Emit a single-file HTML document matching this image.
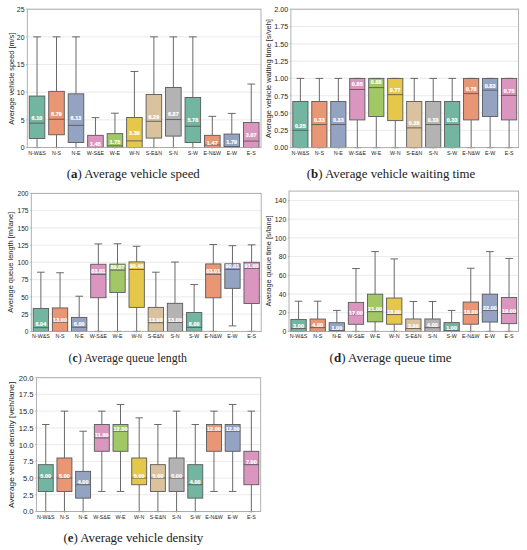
<!DOCTYPE html>
<html><head><meta charset="utf-8"><style>
html,body{margin:0;padding:0;background:#fff;}
svg{display:block;}
text{font-family:"Liberation Sans",sans-serif;}
.tk{font-size:6.6px;fill:#262626;}
.xt{font-size:5.3px;fill:#262626;}
.yl{font-size:7px;fill:#262626;}
.bl{font-size:5.4px;fill:#fff;font-weight:bold;stroke:#fff;stroke-width:0.2px;letter-spacing:0.1px;}
.cap{font-family:"Liberation Serif",serif;font-size:12.8px;fill:#222;}
</style></head><body>
<svg width="527" height="550" viewBox="0 0 527 550">
<rect width="527" height="550" fill="#fff"/>
<line x1="27.3" y1="147.50" x2="261.0" y2="147.50" stroke="#e4e4e4" stroke-width="0.8"/>
<text x="24.50" y="150.23" text-anchor="end" class="tk" style="font-size:6.9px">0</text>
<line x1="26.1" y1="147.50" x2="27.3" y2="147.50" stroke="#a8a8a8" stroke-width="0.8"/>
<line x1="27.3" y1="119.84" x2="261.0" y2="119.84" stroke="#e4e4e4" stroke-width="0.8"/>
<text x="24.50" y="122.57" text-anchor="end" class="tk" style="font-size:6.9px">5</text>
<line x1="26.1" y1="119.84" x2="27.3" y2="119.84" stroke="#a8a8a8" stroke-width="0.8"/>
<line x1="27.3" y1="92.18" x2="261.0" y2="92.18" stroke="#e4e4e4" stroke-width="0.8"/>
<text x="24.50" y="94.91" text-anchor="end" class="tk" style="font-size:6.9px">10</text>
<line x1="26.1" y1="92.18" x2="27.3" y2="92.18" stroke="#a8a8a8" stroke-width="0.8"/>
<line x1="27.3" y1="64.52" x2="261.0" y2="64.52" stroke="#e4e4e4" stroke-width="0.8"/>
<text x="24.50" y="67.25" text-anchor="end" class="tk" style="font-size:6.9px">15</text>
<line x1="26.1" y1="64.52" x2="27.3" y2="64.52" stroke="#a8a8a8" stroke-width="0.8"/>
<line x1="27.3" y1="36.86" x2="261.0" y2="36.86" stroke="#e4e4e4" stroke-width="0.8"/>
<text x="24.50" y="39.59" text-anchor="end" class="tk" style="font-size:6.9px">20</text>
<line x1="26.1" y1="36.86" x2="27.3" y2="36.86" stroke="#a8a8a8" stroke-width="0.8"/>
<line x1="27.3" y1="9.20" x2="261.0" y2="9.20" stroke="#e4e4e4" stroke-width="0.8"/>
<text x="24.50" y="11.93" text-anchor="end" class="tk" style="font-size:6.9px">25</text>
<line x1="26.1" y1="9.20" x2="27.3" y2="9.20" stroke="#a8a8a8" stroke-width="0.8"/>
<line x1="37.04" y1="96.05" x2="37.04" y2="36.86" stroke="#595959" stroke-width="0.9"/>
<line x1="37.04" y1="138.48" x2="37.04" y2="147.50" stroke="#595959" stroke-width="0.9"/>
<line x1="33.14" y1="36.86" x2="40.93" y2="36.86" stroke="#595959" stroke-width="0.9"/>
<line x1="33.14" y1="147.50" x2="40.93" y2="147.50" stroke="#595959" stroke-width="0.9"/>
<rect x="29.25" y="96.05" width="15.58" height="42.43" fill="#72b6a1" stroke="#595959" stroke-width="0.9"/>
<line x1="29.25" y1="123.16" x2="44.83" y2="123.16" stroke="#595959" stroke-width="0.9"/>
<text x="37.04" y="119.85" text-anchor="middle" class="bl">6.10</text>
<text x="37.04" y="154.50" text-anchor="middle" class="xt">N-W&amp;S</text>
<line x1="37.04" y1="147.5" x2="37.04" y2="148.80" stroke="#a8a8a8" stroke-width="0.8"/>
<line x1="56.51" y1="91.35" x2="56.51" y2="36.86" stroke="#595959" stroke-width="0.9"/>
<line x1="56.51" y1="134.78" x2="56.51" y2="147.50" stroke="#595959" stroke-width="0.9"/>
<line x1="52.62" y1="36.86" x2="60.41" y2="36.86" stroke="#595959" stroke-width="0.9"/>
<line x1="52.62" y1="147.50" x2="60.41" y2="147.50" stroke="#595959" stroke-width="0.9"/>
<rect x="48.72" y="91.35" width="15.58" height="43.43" fill="#e99675" stroke="#595959" stroke-width="0.9"/>
<line x1="48.72" y1="119.29" x2="64.30" y2="119.29" stroke="#595959" stroke-width="0.9"/>
<text x="56.51" y="116.04" text-anchor="middle" class="bl">6.79</text>
<text x="56.51" y="154.50" text-anchor="middle" class="xt">N-S</text>
<line x1="56.51" y1="147.5" x2="56.51" y2="148.80" stroke="#a8a8a8" stroke-width="0.8"/>
<line x1="75.99" y1="93.84" x2="75.99" y2="36.86" stroke="#595959" stroke-width="0.9"/>
<line x1="75.99" y1="142.52" x2="75.99" y2="147.50" stroke="#595959" stroke-width="0.9"/>
<line x1="72.09" y1="36.86" x2="79.88" y2="36.86" stroke="#595959" stroke-width="0.9"/>
<line x1="72.09" y1="147.50" x2="79.88" y2="147.50" stroke="#595959" stroke-width="0.9"/>
<rect x="68.20" y="93.84" width="15.58" height="48.68" fill="#95a3c3" stroke="#595959" stroke-width="0.9"/>
<line x1="68.20" y1="125.37" x2="83.78" y2="125.37" stroke="#595959" stroke-width="0.9"/>
<text x="75.99" y="119.69" text-anchor="middle" class="bl">6.13</text>
<text x="75.99" y="154.50" text-anchor="middle" class="xt">N-E</text>
<line x1="75.99" y1="147.5" x2="75.99" y2="148.80" stroke="#a8a8a8" stroke-width="0.8"/>
<line x1="95.46" y1="135.33" x2="95.46" y2="117.63" stroke="#595959" stroke-width="0.9"/>
<line x1="95.46" y1="147.50" x2="95.46" y2="147.50" stroke="#595959" stroke-width="0.9"/>
<line x1="91.57" y1="117.63" x2="99.36" y2="117.63" stroke="#595959" stroke-width="0.9"/>
<line x1="91.57" y1="147.50" x2="99.36" y2="147.50" stroke="#595959" stroke-width="0.9"/>
<rect x="87.67" y="135.33" width="15.58" height="12.17" fill="#db96c0" stroke="#595959" stroke-width="0.9"/>
<line x1="87.67" y1="147.50" x2="103.25" y2="147.50" stroke="#595959" stroke-width="0.9"/>
<text x="95.46" y="145.58" text-anchor="middle" class="bl">1.45</text>
<text x="95.46" y="154.50" text-anchor="middle" class="xt">W-S&amp;E</text>
<line x1="95.46" y1="147.5" x2="95.46" y2="148.80" stroke="#a8a8a8" stroke-width="0.8"/>
<line x1="114.94" y1="133.67" x2="114.94" y2="113.20" stroke="#595959" stroke-width="0.9"/>
<line x1="114.94" y1="147.50" x2="114.94" y2="147.50" stroke="#595959" stroke-width="0.9"/>
<line x1="111.04" y1="113.20" x2="118.83" y2="113.20" stroke="#595959" stroke-width="0.9"/>
<line x1="111.04" y1="147.50" x2="118.83" y2="147.50" stroke="#595959" stroke-width="0.9"/>
<rect x="107.15" y="133.67" width="15.58" height="13.83" fill="#a2c865" stroke="#595959" stroke-width="0.9"/>
<line x1="107.15" y1="145.84" x2="122.73" y2="145.84" stroke="#595959" stroke-width="0.9"/>
<text x="114.94" y="143.92" text-anchor="middle" class="bl">1.75</text>
<text x="114.94" y="154.50" text-anchor="middle" class="xt">W-E</text>
<line x1="114.94" y1="147.5" x2="114.94" y2="148.80" stroke="#a8a8a8" stroke-width="0.8"/>
<line x1="134.41" y1="117.46" x2="134.41" y2="71.49" stroke="#595959" stroke-width="0.9"/>
<line x1="134.41" y1="147.50" x2="134.41" y2="147.50" stroke="#595959" stroke-width="0.9"/>
<line x1="130.52" y1="71.49" x2="138.31" y2="71.49" stroke="#595959" stroke-width="0.9"/>
<line x1="130.52" y1="147.50" x2="138.31" y2="147.50" stroke="#595959" stroke-width="0.9"/>
<rect x="126.62" y="117.46" width="15.58" height="30.04" fill="#e5c849" stroke="#595959" stroke-width="0.9"/>
<line x1="126.62" y1="140.86" x2="142.20" y2="140.86" stroke="#595959" stroke-width="0.9"/>
<text x="134.41" y="134.85" text-anchor="middle" class="bl">3.39</text>
<text x="134.41" y="154.50" text-anchor="middle" class="xt">W-N</text>
<line x1="134.41" y1="147.5" x2="134.41" y2="148.80" stroke="#a8a8a8" stroke-width="0.8"/>
<line x1="153.89" y1="94.50" x2="153.89" y2="36.86" stroke="#595959" stroke-width="0.9"/>
<line x1="153.89" y1="138.10" x2="153.89" y2="147.50" stroke="#595959" stroke-width="0.9"/>
<line x1="149.99" y1="36.86" x2="157.78" y2="36.86" stroke="#595959" stroke-width="0.9"/>
<line x1="149.99" y1="147.50" x2="157.78" y2="147.50" stroke="#595959" stroke-width="0.9"/>
<rect x="146.10" y="94.50" width="15.58" height="43.59" fill="#dbc29e" stroke="#595959" stroke-width="0.9"/>
<line x1="146.10" y1="121.28" x2="161.68" y2="121.28" stroke="#595959" stroke-width="0.9"/>
<text x="153.89" y="118.80" text-anchor="middle" class="bl">6.29</text>
<text x="153.89" y="154.50" text-anchor="middle" class="xt">S-E&amp;N</text>
<line x1="153.89" y1="147.5" x2="153.89" y2="148.80" stroke="#a8a8a8" stroke-width="0.8"/>
<line x1="173.36" y1="87.53" x2="173.36" y2="36.86" stroke="#595959" stroke-width="0.9"/>
<line x1="173.36" y1="136.10" x2="173.36" y2="147.50" stroke="#595959" stroke-width="0.9"/>
<line x1="169.47" y1="36.86" x2="177.26" y2="36.86" stroke="#595959" stroke-width="0.9"/>
<line x1="169.47" y1="147.50" x2="177.26" y2="147.50" stroke="#595959" stroke-width="0.9"/>
<rect x="165.57" y="87.53" width="15.58" height="48.57" fill="#b3b3b3" stroke="#595959" stroke-width="0.9"/>
<line x1="165.57" y1="119.56" x2="181.15" y2="119.56" stroke="#595959" stroke-width="0.9"/>
<text x="173.36" y="115.60" text-anchor="middle" class="bl">6.87</text>
<text x="173.36" y="154.50" text-anchor="middle" class="xt">S-N</text>
<line x1="173.36" y1="147.5" x2="173.36" y2="148.80" stroke="#a8a8a8" stroke-width="0.8"/>
<line x1="192.84" y1="97.44" x2="192.84" y2="36.86" stroke="#595959" stroke-width="0.9"/>
<line x1="192.84" y1="142.52" x2="192.84" y2="147.50" stroke="#595959" stroke-width="0.9"/>
<line x1="188.94" y1="36.86" x2="196.73" y2="36.86" stroke="#595959" stroke-width="0.9"/>
<line x1="188.94" y1="147.50" x2="196.73" y2="147.50" stroke="#595959" stroke-width="0.9"/>
<rect x="185.05" y="97.44" width="15.58" height="45.09" fill="#72b6a1" stroke="#595959" stroke-width="0.9"/>
<line x1="185.05" y1="126.26" x2="200.63" y2="126.26" stroke="#595959" stroke-width="0.9"/>
<text x="192.84" y="121.63" text-anchor="middle" class="bl">5.78</text>
<text x="192.84" y="154.50" text-anchor="middle" class="xt">S-W</text>
<line x1="192.84" y1="147.5" x2="192.84" y2="148.80" stroke="#a8a8a8" stroke-width="0.8"/>
<line x1="212.31" y1="135.33" x2="212.31" y2="116.35" stroke="#595959" stroke-width="0.9"/>
<line x1="212.31" y1="147.50" x2="212.31" y2="147.50" stroke="#595959" stroke-width="0.9"/>
<line x1="208.42" y1="116.35" x2="216.21" y2="116.35" stroke="#595959" stroke-width="0.9"/>
<line x1="208.42" y1="147.50" x2="216.21" y2="147.50" stroke="#595959" stroke-width="0.9"/>
<rect x="204.52" y="135.33" width="15.58" height="12.17" fill="#e99675" stroke="#595959" stroke-width="0.9"/>
<line x1="204.52" y1="145.01" x2="220.10" y2="145.01" stroke="#595959" stroke-width="0.9"/>
<text x="212.31" y="145.47" text-anchor="middle" class="bl">1.47</text>
<text x="212.31" y="154.50" text-anchor="middle" class="xt">E-N&amp;W</text>
<line x1="212.31" y1="147.5" x2="212.31" y2="148.80" stroke="#a8a8a8" stroke-width="0.8"/>
<line x1="231.79" y1="134.06" x2="231.79" y2="113.42" stroke="#595959" stroke-width="0.9"/>
<line x1="231.79" y1="147.50" x2="231.79" y2="147.50" stroke="#595959" stroke-width="0.9"/>
<line x1="227.89" y1="113.42" x2="235.68" y2="113.42" stroke="#595959" stroke-width="0.9"/>
<line x1="227.89" y1="147.50" x2="235.68" y2="147.50" stroke="#595959" stroke-width="0.9"/>
<rect x="224.00" y="134.06" width="15.58" height="13.44" fill="#95a3c3" stroke="#595959" stroke-width="0.9"/>
<line x1="224.00" y1="146.50" x2="239.58" y2="146.50" stroke="#595959" stroke-width="0.9"/>
<text x="231.79" y="143.70" text-anchor="middle" class="bl">1.79</text>
<text x="231.79" y="154.50" text-anchor="middle" class="xt">E-W</text>
<line x1="231.79" y1="147.5" x2="231.79" y2="148.80" stroke="#a8a8a8" stroke-width="0.8"/>
<line x1="251.26" y1="122.44" x2="251.26" y2="84.05" stroke="#595959" stroke-width="0.9"/>
<line x1="251.26" y1="147.50" x2="251.26" y2="147.50" stroke="#595959" stroke-width="0.9"/>
<line x1="247.37" y1="84.05" x2="255.16" y2="84.05" stroke="#595959" stroke-width="0.9"/>
<line x1="247.37" y1="147.50" x2="255.16" y2="147.50" stroke="#595959" stroke-width="0.9"/>
<rect x="243.47" y="122.44" width="15.58" height="25.06" fill="#db96c0" stroke="#595959" stroke-width="0.9"/>
<line x1="243.47" y1="141.08" x2="259.05" y2="141.08" stroke="#595959" stroke-width="0.9"/>
<text x="251.26" y="136.62" text-anchor="middle" class="bl">3.07</text>
<text x="251.26" y="154.50" text-anchor="middle" class="xt">E-S</text>
<line x1="251.26" y1="147.5" x2="251.26" y2="148.80" stroke="#a8a8a8" stroke-width="0.8"/>
<rect x="27.3" y="9.2" width="233.70" height="138.30" fill="none" stroke="#a8a8a8" stroke-width="0.9"/>
<text transform="translate(13.6,78.75) rotate(-90)" text-anchor="middle" class="yl" style="font-size:7.3px" textLength="92.1" lengthAdjust="spacingAndGlyphs">Average vehicle speed [m/s]</text>
<text x="66.8" y="177.8" class="cap" textLength="133" lengthAdjust="spacingAndGlyphs">(<tspan font-weight="bold">a</tspan>) Average vehicle speed</text>
<line x1="290.9" y1="147.60" x2="518.6" y2="147.60" stroke="#e4e4e4" stroke-width="0.8"/>
<text x="288.10" y="150.41" text-anchor="end" class="tk" style="font-size:7.1px">0.00</text>
<line x1="289.7" y1="147.60" x2="290.9" y2="147.60" stroke="#a8a8a8" stroke-width="0.8"/>
<line x1="290.9" y1="130.30" x2="518.6" y2="130.30" stroke="#e4e4e4" stroke-width="0.8"/>
<text x="288.10" y="133.11" text-anchor="end" class="tk" style="font-size:7.1px">0.25</text>
<line x1="289.7" y1="130.30" x2="290.9" y2="130.30" stroke="#a8a8a8" stroke-width="0.8"/>
<line x1="290.9" y1="113.00" x2="518.6" y2="113.00" stroke="#e4e4e4" stroke-width="0.8"/>
<text x="288.10" y="115.81" text-anchor="end" class="tk" style="font-size:7.1px">0.50</text>
<line x1="289.7" y1="113.00" x2="290.9" y2="113.00" stroke="#a8a8a8" stroke-width="0.8"/>
<line x1="290.9" y1="95.70" x2="518.6" y2="95.70" stroke="#e4e4e4" stroke-width="0.8"/>
<text x="288.10" y="98.51" text-anchor="end" class="tk" style="font-size:7.1px">0.75</text>
<line x1="289.7" y1="95.70" x2="290.9" y2="95.70" stroke="#a8a8a8" stroke-width="0.8"/>
<line x1="290.9" y1="78.40" x2="518.6" y2="78.40" stroke="#e4e4e4" stroke-width="0.8"/>
<text x="288.10" y="81.21" text-anchor="end" class="tk" style="font-size:7.1px">1.00</text>
<line x1="289.7" y1="78.40" x2="290.9" y2="78.40" stroke="#a8a8a8" stroke-width="0.8"/>
<line x1="290.9" y1="61.10" x2="518.6" y2="61.10" stroke="#e4e4e4" stroke-width="0.8"/>
<text x="288.10" y="63.91" text-anchor="end" class="tk" style="font-size:7.1px">1.25</text>
<line x1="289.7" y1="61.10" x2="290.9" y2="61.10" stroke="#a8a8a8" stroke-width="0.8"/>
<line x1="290.9" y1="43.80" x2="518.6" y2="43.80" stroke="#e4e4e4" stroke-width="0.8"/>
<text x="288.10" y="46.61" text-anchor="end" class="tk" style="font-size:7.1px">1.50</text>
<line x1="289.7" y1="43.80" x2="290.9" y2="43.80" stroke="#a8a8a8" stroke-width="0.8"/>
<line x1="290.9" y1="26.50" x2="518.6" y2="26.50" stroke="#e4e4e4" stroke-width="0.8"/>
<text x="288.10" y="29.31" text-anchor="end" class="tk" style="font-size:7.1px">1.75</text>
<line x1="289.7" y1="26.50" x2="290.9" y2="26.50" stroke="#a8a8a8" stroke-width="0.8"/>
<line x1="290.9" y1="9.20" x2="518.6" y2="9.20" stroke="#e4e4e4" stroke-width="0.8"/>
<text x="288.10" y="12.01" text-anchor="end" class="tk" style="font-size:7.1px">2.00</text>
<line x1="289.7" y1="9.20" x2="290.9" y2="9.20" stroke="#a8a8a8" stroke-width="0.8"/>
<line x1="300.39" y1="101.44" x2="300.39" y2="78.40" stroke="#595959" stroke-width="0.9"/>
<line x1="300.39" y1="147.60" x2="300.39" y2="147.60" stroke="#595959" stroke-width="0.9"/>
<line x1="296.59" y1="78.40" x2="304.18" y2="78.40" stroke="#595959" stroke-width="0.9"/>
<line x1="296.59" y1="147.60" x2="304.18" y2="147.60" stroke="#595959" stroke-width="0.9"/>
<rect x="292.80" y="101.44" width="15.18" height="46.16" fill="#72b6a1" stroke="#595959" stroke-width="0.9"/>
<line x1="292.80" y1="130.30" x2="307.98" y2="130.30" stroke="#595959" stroke-width="0.9"/>
<text x="300.39" y="127.70" text-anchor="middle" class="bl">0.25</text>
<text x="300.39" y="154.60" text-anchor="middle" class="xt">N-W&amp;S</text>
<line x1="300.39" y1="147.6" x2="300.39" y2="148.90" stroke="#a8a8a8" stroke-width="0.8"/>
<line x1="319.36" y1="101.44" x2="319.36" y2="78.40" stroke="#595959" stroke-width="0.9"/>
<line x1="319.36" y1="147.60" x2="319.36" y2="147.60" stroke="#595959" stroke-width="0.9"/>
<line x1="315.57" y1="78.40" x2="323.16" y2="78.40" stroke="#595959" stroke-width="0.9"/>
<line x1="315.57" y1="147.60" x2="323.16" y2="147.60" stroke="#595959" stroke-width="0.9"/>
<rect x="311.77" y="101.44" width="15.18" height="46.16" fill="#e99675" stroke="#595959" stroke-width="0.9"/>
<line x1="311.77" y1="124.56" x2="326.95" y2="124.56" stroke="#595959" stroke-width="0.9"/>
<text x="319.36" y="122.16" text-anchor="middle" class="bl">0.33</text>
<text x="319.36" y="154.60" text-anchor="middle" class="xt">N-S</text>
<line x1="319.36" y1="147.6" x2="319.36" y2="148.90" stroke="#a8a8a8" stroke-width="0.8"/>
<line x1="338.34" y1="101.44" x2="338.34" y2="78.40" stroke="#595959" stroke-width="0.9"/>
<line x1="338.34" y1="147.60" x2="338.34" y2="147.60" stroke="#595959" stroke-width="0.9"/>
<line x1="334.54" y1="78.40" x2="342.13" y2="78.40" stroke="#595959" stroke-width="0.9"/>
<line x1="334.54" y1="147.60" x2="342.13" y2="147.60" stroke="#595959" stroke-width="0.9"/>
<rect x="330.75" y="101.44" width="15.18" height="46.16" fill="#95a3c3" stroke="#595959" stroke-width="0.9"/>
<line x1="330.75" y1="124.56" x2="345.93" y2="124.56" stroke="#595959" stroke-width="0.9"/>
<text x="338.34" y="122.16" text-anchor="middle" class="bl">0.33</text>
<text x="338.34" y="154.60" text-anchor="middle" class="xt">N-E</text>
<line x1="338.34" y1="147.6" x2="338.34" y2="148.90" stroke="#a8a8a8" stroke-width="0.8"/>
<line x1="357.31" y1="78.40" x2="357.31" y2="78.40" stroke="#595959" stroke-width="0.9"/>
<line x1="357.31" y1="119.92" x2="357.31" y2="147.60" stroke="#595959" stroke-width="0.9"/>
<line x1="353.52" y1="78.40" x2="361.11" y2="78.40" stroke="#595959" stroke-width="0.9"/>
<line x1="353.52" y1="147.60" x2="361.11" y2="147.60" stroke="#595959" stroke-width="0.9"/>
<rect x="349.72" y="78.40" width="15.18" height="41.52" fill="#db96c0" stroke="#595959" stroke-width="0.9"/>
<line x1="349.72" y1="89.47" x2="364.90" y2="89.47" stroke="#595959" stroke-width="0.9"/>
<text x="357.31" y="86.18" text-anchor="middle" class="bl">0.85</text>
<text x="357.31" y="154.60" text-anchor="middle" class="xt">W-S&amp;E</text>
<line x1="357.31" y1="147.6" x2="357.31" y2="148.90" stroke="#a8a8a8" stroke-width="0.8"/>
<line x1="376.29" y1="78.40" x2="376.29" y2="78.40" stroke="#595959" stroke-width="0.9"/>
<line x1="376.29" y1="116.46" x2="376.29" y2="147.60" stroke="#595959" stroke-width="0.9"/>
<line x1="372.49" y1="78.40" x2="380.08" y2="78.40" stroke="#595959" stroke-width="0.9"/>
<line x1="372.49" y1="147.60" x2="380.08" y2="147.60" stroke="#595959" stroke-width="0.9"/>
<rect x="368.70" y="78.40" width="15.18" height="38.06" fill="#a2c865" stroke="#595959" stroke-width="0.9"/>
<line x1="368.70" y1="87.60" x2="383.88" y2="87.60" stroke="#595959" stroke-width="0.9"/>
<text x="376.29" y="84.10" text-anchor="middle" class="bl">0.88</text>
<text x="376.29" y="154.60" text-anchor="middle" class="xt">W-E</text>
<line x1="376.29" y1="147.6" x2="376.29" y2="148.90" stroke="#a8a8a8" stroke-width="0.8"/>
<line x1="395.26" y1="78.40" x2="395.26" y2="78.40" stroke="#595959" stroke-width="0.9"/>
<line x1="395.26" y1="120.61" x2="395.26" y2="147.60" stroke="#595959" stroke-width="0.9"/>
<line x1="391.47" y1="78.40" x2="399.06" y2="78.40" stroke="#595959" stroke-width="0.9"/>
<line x1="391.47" y1="147.60" x2="399.06" y2="147.60" stroke="#595959" stroke-width="0.9"/>
<rect x="387.67" y="78.40" width="15.18" height="42.21" fill="#e5c849" stroke="#595959" stroke-width="0.9"/>
<line x1="387.67" y1="94.66" x2="402.85" y2="94.66" stroke="#595959" stroke-width="0.9"/>
<text x="395.26" y="91.72" text-anchor="middle" class="bl">0.77</text>
<text x="395.26" y="154.60" text-anchor="middle" class="xt">W-N</text>
<line x1="395.26" y1="147.6" x2="395.26" y2="148.90" stroke="#a8a8a8" stroke-width="0.8"/>
<line x1="414.24" y1="101.44" x2="414.24" y2="78.40" stroke="#595959" stroke-width="0.9"/>
<line x1="414.24" y1="147.60" x2="414.24" y2="147.60" stroke="#595959" stroke-width="0.9"/>
<line x1="410.44" y1="78.40" x2="418.03" y2="78.40" stroke="#595959" stroke-width="0.9"/>
<line x1="410.44" y1="147.60" x2="418.03" y2="147.60" stroke="#595959" stroke-width="0.9"/>
<rect x="406.65" y="101.44" width="15.18" height="46.16" fill="#dbc29e" stroke="#595959" stroke-width="0.9"/>
<line x1="406.65" y1="127.88" x2="421.83" y2="127.88" stroke="#595959" stroke-width="0.9"/>
<text x="414.24" y="124.93" text-anchor="middle" class="bl">0.29</text>
<text x="414.24" y="154.60" text-anchor="middle" class="xt">S-E&amp;N</text>
<line x1="414.24" y1="147.6" x2="414.24" y2="148.90" stroke="#a8a8a8" stroke-width="0.8"/>
<line x1="433.21" y1="101.44" x2="433.21" y2="78.40" stroke="#595959" stroke-width="0.9"/>
<line x1="433.21" y1="147.60" x2="433.21" y2="147.60" stroke="#595959" stroke-width="0.9"/>
<line x1="429.42" y1="78.40" x2="437.01" y2="78.40" stroke="#595959" stroke-width="0.9"/>
<line x1="429.42" y1="147.60" x2="437.01" y2="147.60" stroke="#595959" stroke-width="0.9"/>
<rect x="425.62" y="101.44" width="15.18" height="46.16" fill="#b3b3b3" stroke="#595959" stroke-width="0.9"/>
<line x1="425.62" y1="124.56" x2="440.80" y2="124.56" stroke="#595959" stroke-width="0.9"/>
<text x="433.21" y="122.16" text-anchor="middle" class="bl">0.33</text>
<text x="433.21" y="154.60" text-anchor="middle" class="xt">S-N</text>
<line x1="433.21" y1="147.6" x2="433.21" y2="148.90" stroke="#a8a8a8" stroke-width="0.8"/>
<line x1="452.19" y1="101.44" x2="452.19" y2="78.40" stroke="#595959" stroke-width="0.9"/>
<line x1="452.19" y1="147.60" x2="452.19" y2="147.60" stroke="#595959" stroke-width="0.9"/>
<line x1="448.39" y1="78.40" x2="455.98" y2="78.40" stroke="#595959" stroke-width="0.9"/>
<line x1="448.39" y1="147.60" x2="455.98" y2="147.60" stroke="#595959" stroke-width="0.9"/>
<rect x="444.60" y="101.44" width="15.18" height="46.16" fill="#72b6a1" stroke="#595959" stroke-width="0.9"/>
<line x1="444.60" y1="124.56" x2="459.78" y2="124.56" stroke="#595959" stroke-width="0.9"/>
<text x="452.19" y="122.16" text-anchor="middle" class="bl">0.33</text>
<text x="452.19" y="154.60" text-anchor="middle" class="xt">S-W</text>
<line x1="452.19" y1="147.6" x2="452.19" y2="148.90" stroke="#a8a8a8" stroke-width="0.8"/>
<line x1="471.16" y1="78.40" x2="471.16" y2="78.40" stroke="#595959" stroke-width="0.9"/>
<line x1="471.16" y1="119.92" x2="471.16" y2="147.60" stroke="#595959" stroke-width="0.9"/>
<line x1="467.37" y1="78.40" x2="474.96" y2="78.40" stroke="#595959" stroke-width="0.9"/>
<line x1="467.37" y1="147.60" x2="474.96" y2="147.60" stroke="#595959" stroke-width="0.9"/>
<rect x="463.57" y="78.40" width="15.18" height="41.52" fill="#e99675" stroke="#595959" stroke-width="0.9"/>
<line x1="463.57" y1="93.62" x2="478.75" y2="93.62" stroke="#595959" stroke-width="0.9"/>
<text x="471.16" y="91.02" text-anchor="middle" class="bl">0.78</text>
<text x="471.16" y="154.60" text-anchor="middle" class="xt">E-N&amp;W</text>
<line x1="471.16" y1="147.6" x2="471.16" y2="148.90" stroke="#a8a8a8" stroke-width="0.8"/>
<line x1="490.14" y1="78.40" x2="490.14" y2="78.40" stroke="#595959" stroke-width="0.9"/>
<line x1="490.14" y1="116.46" x2="490.14" y2="147.60" stroke="#595959" stroke-width="0.9"/>
<line x1="486.34" y1="78.40" x2="493.93" y2="78.40" stroke="#595959" stroke-width="0.9"/>
<line x1="486.34" y1="147.60" x2="493.93" y2="147.60" stroke="#595959" stroke-width="0.9"/>
<rect x="482.55" y="78.40" width="15.18" height="38.06" fill="#95a3c3" stroke="#595959" stroke-width="0.9"/>
<line x1="482.55" y1="90.16" x2="497.73" y2="90.16" stroke="#595959" stroke-width="0.9"/>
<text x="490.14" y="87.56" text-anchor="middle" class="bl">0.83</text>
<text x="490.14" y="154.60" text-anchor="middle" class="xt">E-W</text>
<line x1="490.14" y1="147.6" x2="490.14" y2="148.90" stroke="#a8a8a8" stroke-width="0.8"/>
<line x1="509.11" y1="78.40" x2="509.11" y2="78.40" stroke="#595959" stroke-width="0.9"/>
<line x1="509.11" y1="119.92" x2="509.11" y2="147.60" stroke="#595959" stroke-width="0.9"/>
<line x1="505.32" y1="78.40" x2="512.91" y2="78.40" stroke="#595959" stroke-width="0.9"/>
<line x1="505.32" y1="147.60" x2="512.91" y2="147.60" stroke="#595959" stroke-width="0.9"/>
<rect x="501.52" y="78.40" width="15.18" height="41.52" fill="#db96c0" stroke="#595959" stroke-width="0.9"/>
<line x1="501.52" y1="95.35" x2="516.70" y2="95.35" stroke="#595959" stroke-width="0.9"/>
<text x="509.11" y="93.10" text-anchor="middle" class="bl">0.75</text>
<text x="509.11" y="154.60" text-anchor="middle" class="xt">E-S</text>
<line x1="509.11" y1="147.6" x2="509.11" y2="148.90" stroke="#a8a8a8" stroke-width="0.8"/>
<rect x="290.9" y="9.2" width="227.70" height="138.40" fill="none" stroke="#a8a8a8" stroke-width="0.9"/>
<text transform="translate(271.1,78.50) rotate(-90)" text-anchor="middle" class="yl" style="font-size:6.7px" textLength="118.8" lengthAdjust="spacingAndGlyphs">Average vehicle waiting time [s/veh]</text>
<text x="306.8" y="177.8" class="cap" textLength="168.5" lengthAdjust="spacingAndGlyphs">(<tspan font-weight="bold">b</tspan>) Average vehicle waiting time</text>
<line x1="31.3" y1="331.40" x2="261.2" y2="331.40" stroke="#e4e4e4" stroke-width="0.8"/>
<text x="28.50" y="334.03" text-anchor="end" class="tk" style="font-size:6.6px">0</text>
<line x1="30.1" y1="331.40" x2="31.3" y2="331.40" stroke="#a8a8a8" stroke-width="0.8"/>
<line x1="31.3" y1="314.15" x2="261.2" y2="314.15" stroke="#e4e4e4" stroke-width="0.8"/>
<text x="28.50" y="316.78" text-anchor="end" class="tk" style="font-size:6.6px">25</text>
<line x1="30.1" y1="314.15" x2="31.3" y2="314.15" stroke="#a8a8a8" stroke-width="0.8"/>
<line x1="31.3" y1="296.90" x2="261.2" y2="296.90" stroke="#e4e4e4" stroke-width="0.8"/>
<text x="28.50" y="299.53" text-anchor="end" class="tk" style="font-size:6.6px">50</text>
<line x1="30.1" y1="296.90" x2="31.3" y2="296.90" stroke="#a8a8a8" stroke-width="0.8"/>
<line x1="31.3" y1="279.65" x2="261.2" y2="279.65" stroke="#e4e4e4" stroke-width="0.8"/>
<text x="28.50" y="282.28" text-anchor="end" class="tk" style="font-size:6.6px">75</text>
<line x1="30.1" y1="279.65" x2="31.3" y2="279.65" stroke="#a8a8a8" stroke-width="0.8"/>
<line x1="31.3" y1="262.40" x2="261.2" y2="262.40" stroke="#e4e4e4" stroke-width="0.8"/>
<text x="28.50" y="265.03" text-anchor="end" class="tk" style="font-size:6.6px">100</text>
<line x1="30.1" y1="262.40" x2="31.3" y2="262.40" stroke="#a8a8a8" stroke-width="0.8"/>
<line x1="31.3" y1="245.15" x2="261.2" y2="245.15" stroke="#e4e4e4" stroke-width="0.8"/>
<text x="28.50" y="247.78" text-anchor="end" class="tk" style="font-size:6.6px">125</text>
<line x1="30.1" y1="245.15" x2="31.3" y2="245.15" stroke="#a8a8a8" stroke-width="0.8"/>
<line x1="31.3" y1="227.90" x2="261.2" y2="227.90" stroke="#e4e4e4" stroke-width="0.8"/>
<text x="28.50" y="230.53" text-anchor="end" class="tk" style="font-size:6.6px">150</text>
<line x1="30.1" y1="227.90" x2="31.3" y2="227.90" stroke="#a8a8a8" stroke-width="0.8"/>
<line x1="31.3" y1="210.65" x2="261.2" y2="210.65" stroke="#e4e4e4" stroke-width="0.8"/>
<text x="28.50" y="213.28" text-anchor="end" class="tk" style="font-size:6.6px">175</text>
<line x1="30.1" y1="210.65" x2="31.3" y2="210.65" stroke="#a8a8a8" stroke-width="0.8"/>
<line x1="31.3" y1="193.40" x2="261.2" y2="193.40" stroke="#e4e4e4" stroke-width="0.8"/>
<text x="28.50" y="196.03" text-anchor="end" class="tk" style="font-size:6.6px">200</text>
<line x1="30.1" y1="193.40" x2="31.3" y2="193.40" stroke="#a8a8a8" stroke-width="0.8"/>
<line x1="40.88" y1="308.42" x2="40.88" y2="272.20" stroke="#595959" stroke-width="0.9"/>
<line x1="40.88" y1="331.40" x2="40.88" y2="331.40" stroke="#595959" stroke-width="0.9"/>
<line x1="37.05" y1="272.20" x2="44.71" y2="272.20" stroke="#595959" stroke-width="0.9"/>
<line x1="37.05" y1="331.40" x2="44.71" y2="331.40" stroke="#595959" stroke-width="0.9"/>
<rect x="33.22" y="308.42" width="15.33" height="22.98" fill="#72b6a1" stroke="#595959" stroke-width="0.9"/>
<line x1="33.22" y1="327.67" x2="48.54" y2="327.67" stroke="#595959" stroke-width="0.9"/>
<text x="40.88" y="326.33" text-anchor="middle" class="bl">6.04</text>
<text x="40.88" y="338.40" text-anchor="middle" class="xt">N-W&amp;S</text>
<line x1="40.88" y1="331.4" x2="40.88" y2="332.70" stroke="#a8a8a8" stroke-width="0.8"/>
<line x1="60.04" y1="307.94" x2="60.04" y2="272.75" stroke="#595959" stroke-width="0.9"/>
<line x1="60.04" y1="331.40" x2="60.04" y2="331.40" stroke="#595959" stroke-width="0.9"/>
<line x1="56.21" y1="272.75" x2="63.87" y2="272.75" stroke="#595959" stroke-width="0.9"/>
<line x1="56.21" y1="331.40" x2="63.87" y2="331.40" stroke="#595959" stroke-width="0.9"/>
<rect x="52.37" y="307.94" width="15.33" height="23.46" fill="#e99675" stroke="#595959" stroke-width="0.9"/>
<line x1="52.37" y1="322.15" x2="67.70" y2="322.15" stroke="#595959" stroke-width="0.9"/>
<text x="60.04" y="321.53" text-anchor="middle" class="bl">13.00</text>
<text x="60.04" y="338.40" text-anchor="middle" class="xt">N-S</text>
<line x1="60.04" y1="331.4" x2="60.04" y2="332.70" stroke="#a8a8a8" stroke-width="0.8"/>
<line x1="79.20" y1="317.39" x2="79.20" y2="296.21" stroke="#595959" stroke-width="0.9"/>
<line x1="79.20" y1="331.40" x2="79.20" y2="331.40" stroke="#595959" stroke-width="0.9"/>
<line x1="75.36" y1="296.21" x2="83.03" y2="296.21" stroke="#595959" stroke-width="0.9"/>
<line x1="75.36" y1="331.40" x2="83.03" y2="331.40" stroke="#595959" stroke-width="0.9"/>
<rect x="71.53" y="317.39" width="15.33" height="14.01" fill="#95a3c3" stroke="#595959" stroke-width="0.9"/>
<line x1="71.53" y1="327.26" x2="86.86" y2="327.26" stroke="#595959" stroke-width="0.9"/>
<text x="79.20" y="326.36" text-anchor="middle" class="bl">6.00</text>
<text x="79.20" y="338.40" text-anchor="middle" class="xt">N-E</text>
<line x1="79.20" y1="331.4" x2="79.20" y2="332.70" stroke="#a8a8a8" stroke-width="0.8"/>
<line x1="98.35" y1="264.26" x2="98.35" y2="243.91" stroke="#595959" stroke-width="0.9"/>
<line x1="98.35" y1="297.73" x2="98.35" y2="331.40" stroke="#595959" stroke-width="0.9"/>
<line x1="94.52" y1="243.91" x2="102.19" y2="243.91" stroke="#595959" stroke-width="0.9"/>
<line x1="94.52" y1="331.40" x2="102.19" y2="331.40" stroke="#595959" stroke-width="0.9"/>
<rect x="90.69" y="264.26" width="15.33" height="33.47" fill="#db96c0" stroke="#595959" stroke-width="0.9"/>
<line x1="90.69" y1="274.41" x2="106.02" y2="274.41" stroke="#595959" stroke-width="0.9"/>
<text x="98.35" y="273.22" text-anchor="middle" class="bl">83.01</text>
<text x="98.35" y="338.40" text-anchor="middle" class="xt">W-S&amp;E</text>
<line x1="98.35" y1="331.4" x2="98.35" y2="332.70" stroke="#a8a8a8" stroke-width="0.8"/>
<line x1="117.51" y1="264.12" x2="117.51" y2="243.77" stroke="#595959" stroke-width="0.9"/>
<line x1="117.51" y1="292.41" x2="117.51" y2="331.40" stroke="#595959" stroke-width="0.9"/>
<line x1="113.68" y1="243.77" x2="121.34" y2="243.77" stroke="#595959" stroke-width="0.9"/>
<line x1="113.68" y1="331.40" x2="121.34" y2="331.40" stroke="#595959" stroke-width="0.9"/>
<rect x="109.85" y="264.12" width="15.33" height="28.29" fill="#a2c865" stroke="#595959" stroke-width="0.9"/>
<line x1="109.85" y1="270.13" x2="125.18" y2="270.13" stroke="#595959" stroke-width="0.9"/>
<text x="117.51" y="269.04" text-anchor="middle" class="bl">89.07</text>
<text x="117.51" y="338.40" text-anchor="middle" class="xt">W-E</text>
<line x1="117.51" y1="331.4" x2="117.51" y2="332.70" stroke="#a8a8a8" stroke-width="0.8"/>
<line x1="136.67" y1="261.85" x2="136.67" y2="246.25" stroke="#595959" stroke-width="0.9"/>
<line x1="136.67" y1="307.39" x2="136.67" y2="331.40" stroke="#595959" stroke-width="0.9"/>
<line x1="132.84" y1="246.25" x2="140.50" y2="246.25" stroke="#595959" stroke-width="0.9"/>
<line x1="132.84" y1="331.40" x2="140.50" y2="331.40" stroke="#595959" stroke-width="0.9"/>
<rect x="129.01" y="261.85" width="15.33" height="45.54" fill="#e5c849" stroke="#595959" stroke-width="0.9"/>
<line x1="129.01" y1="269.51" x2="144.33" y2="269.51" stroke="#595959" stroke-width="0.9"/>
<text x="136.67" y="268.08" text-anchor="middle" class="bl">90.46</text>
<text x="136.67" y="338.40" text-anchor="middle" class="xt">W-N</text>
<line x1="136.67" y1="331.4" x2="136.67" y2="332.70" stroke="#a8a8a8" stroke-width="0.8"/>
<line x1="155.83" y1="307.39" x2="155.83" y2="272.20" stroke="#595959" stroke-width="0.9"/>
<line x1="155.83" y1="331.40" x2="155.83" y2="331.40" stroke="#595959" stroke-width="0.9"/>
<line x1="152.00" y1="272.20" x2="159.66" y2="272.20" stroke="#595959" stroke-width="0.9"/>
<line x1="152.00" y1="331.40" x2="159.66" y2="331.40" stroke="#595959" stroke-width="0.9"/>
<rect x="148.17" y="307.39" width="15.33" height="24.01" fill="#dbc29e" stroke="#595959" stroke-width="0.9"/>
<line x1="148.17" y1="322.71" x2="163.49" y2="322.71" stroke="#595959" stroke-width="0.9"/>
<text x="155.83" y="321.53" text-anchor="middle" class="bl">13.00</text>
<text x="155.83" y="338.40" text-anchor="middle" class="xt">S-E&amp;N</text>
<line x1="155.83" y1="331.4" x2="155.83" y2="332.70" stroke="#a8a8a8" stroke-width="0.8"/>
<line x1="174.99" y1="303.32" x2="174.99" y2="262.06" stroke="#595959" stroke-width="0.9"/>
<line x1="174.99" y1="331.40" x2="174.99" y2="331.40" stroke="#595959" stroke-width="0.9"/>
<line x1="171.16" y1="262.06" x2="178.82" y2="262.06" stroke="#595959" stroke-width="0.9"/>
<line x1="171.16" y1="331.40" x2="178.82" y2="331.40" stroke="#595959" stroke-width="0.9"/>
<rect x="167.32" y="303.32" width="15.33" height="28.08" fill="#b3b3b3" stroke="#595959" stroke-width="0.9"/>
<line x1="167.32" y1="322.43" x2="182.65" y2="322.43" stroke="#595959" stroke-width="0.9"/>
<text x="174.99" y="321.53" text-anchor="middle" class="bl">13.00</text>
<text x="174.99" y="338.40" text-anchor="middle" class="xt">S-N</text>
<line x1="174.99" y1="331.4" x2="174.99" y2="332.70" stroke="#a8a8a8" stroke-width="0.8"/>
<line x1="194.15" y1="312.56" x2="194.15" y2="284.55" stroke="#595959" stroke-width="0.9"/>
<line x1="194.15" y1="331.40" x2="194.15" y2="331.40" stroke="#595959" stroke-width="0.9"/>
<line x1="190.31" y1="284.55" x2="197.98" y2="284.55" stroke="#595959" stroke-width="0.9"/>
<line x1="190.31" y1="331.40" x2="197.98" y2="331.40" stroke="#595959" stroke-width="0.9"/>
<rect x="186.48" y="312.56" width="15.33" height="18.84" fill="#72b6a1" stroke="#595959" stroke-width="0.9"/>
<line x1="186.48" y1="327.40" x2="201.81" y2="327.40" stroke="#595959" stroke-width="0.9"/>
<text x="194.15" y="326.36" text-anchor="middle" class="bl">6.00</text>
<text x="194.15" y="338.40" text-anchor="middle" class="xt">S-W</text>
<line x1="194.15" y1="331.4" x2="194.15" y2="332.70" stroke="#a8a8a8" stroke-width="0.8"/>
<line x1="213.30" y1="263.92" x2="213.30" y2="244.53" stroke="#595959" stroke-width="0.9"/>
<line x1="213.30" y1="297.80" x2="213.30" y2="331.40" stroke="#595959" stroke-width="0.9"/>
<line x1="209.47" y1="244.53" x2="217.14" y2="244.53" stroke="#595959" stroke-width="0.9"/>
<line x1="209.47" y1="331.40" x2="217.14" y2="331.40" stroke="#595959" stroke-width="0.9"/>
<rect x="205.64" y="263.92" width="15.33" height="33.88" fill="#e99675" stroke="#595959" stroke-width="0.9"/>
<line x1="205.64" y1="274.41" x2="220.97" y2="274.41" stroke="#595959" stroke-width="0.9"/>
<text x="213.30" y="273.22" text-anchor="middle" class="bl">83.01</text>
<text x="213.30" y="338.40" text-anchor="middle" class="xt">E-N&amp;W</text>
<line x1="213.30" y1="331.4" x2="213.30" y2="332.70" stroke="#a8a8a8" stroke-width="0.8"/>
<line x1="232.46" y1="263.78" x2="232.46" y2="245.70" stroke="#595959" stroke-width="0.9"/>
<line x1="232.46" y1="288.34" x2="232.46" y2="325.88" stroke="#595959" stroke-width="0.9"/>
<line x1="228.63" y1="245.70" x2="236.29" y2="245.70" stroke="#595959" stroke-width="0.9"/>
<line x1="228.63" y1="325.88" x2="236.29" y2="325.88" stroke="#595959" stroke-width="0.9"/>
<rect x="224.80" y="263.78" width="15.33" height="24.56" fill="#95a3c3" stroke="#595959" stroke-width="0.9"/>
<line x1="224.80" y1="269.44" x2="240.13" y2="269.44" stroke="#595959" stroke-width="0.9"/>
<text x="232.46" y="268.39" text-anchor="middle" class="bl">90.01</text>
<text x="232.46" y="338.40" text-anchor="middle" class="xt">E-W</text>
<line x1="232.46" y1="331.4" x2="232.46" y2="332.70" stroke="#a8a8a8" stroke-width="0.8"/>
<line x1="251.62" y1="262.26" x2="251.62" y2="244.81" stroke="#595959" stroke-width="0.9"/>
<line x1="251.62" y1="303.45" x2="251.62" y2="331.40" stroke="#595959" stroke-width="0.9"/>
<line x1="247.79" y1="244.81" x2="255.45" y2="244.81" stroke="#595959" stroke-width="0.9"/>
<line x1="247.79" y1="331.40" x2="255.45" y2="331.40" stroke="#595959" stroke-width="0.9"/>
<rect x="243.96" y="262.26" width="15.33" height="41.19" fill="#db96c0" stroke="#595959" stroke-width="0.9"/>
<line x1="243.96" y1="268.33" x2="259.28" y2="268.33" stroke="#595959" stroke-width="0.9"/>
<text x="251.62" y="267.71" text-anchor="middle" class="bl">91.00</text>
<text x="251.62" y="338.40" text-anchor="middle" class="xt">E-S</text>
<line x1="251.62" y1="331.4" x2="251.62" y2="332.70" stroke="#a8a8a8" stroke-width="0.8"/>
<rect x="31.3" y="193.4" width="229.90" height="138.00" fill="none" stroke="#a8a8a8" stroke-width="0.9"/>
<text transform="translate(13.3,262.30) rotate(-90)" text-anchor="middle" class="yl" style="font-size:7.1px" textLength="100.8" lengthAdjust="spacingAndGlyphs">Average queue length [m/lane]</text>
<text x="68.5" y="361.5" class="cap" textLength="118.4" lengthAdjust="spacingAndGlyphs">(<tspan font-weight="bold">c</tspan>) Average queue length</text>
<line x1="289.0" y1="331.40" x2="518.6" y2="331.40" stroke="#e4e4e4" stroke-width="0.8"/>
<text x="286.20" y="334.10" text-anchor="end" class="tk" style="font-size:6.8px">0</text>
<line x1="287.8" y1="331.40" x2="289.0" y2="331.40" stroke="#a8a8a8" stroke-width="0.8"/>
<line x1="289.0" y1="312.69" x2="518.6" y2="312.69" stroke="#e4e4e4" stroke-width="0.8"/>
<text x="286.20" y="315.39" text-anchor="end" class="tk" style="font-size:6.8px">20</text>
<line x1="287.8" y1="312.69" x2="289.0" y2="312.69" stroke="#a8a8a8" stroke-width="0.8"/>
<line x1="289.0" y1="293.99" x2="518.6" y2="293.99" stroke="#e4e4e4" stroke-width="0.8"/>
<text x="286.20" y="296.68" text-anchor="end" class="tk" style="font-size:6.8px">40</text>
<line x1="287.8" y1="293.99" x2="289.0" y2="293.99" stroke="#a8a8a8" stroke-width="0.8"/>
<line x1="289.0" y1="275.28" x2="518.6" y2="275.28" stroke="#e4e4e4" stroke-width="0.8"/>
<text x="286.20" y="277.98" text-anchor="end" class="tk" style="font-size:6.8px">60</text>
<line x1="287.8" y1="275.28" x2="289.0" y2="275.28" stroke="#a8a8a8" stroke-width="0.8"/>
<line x1="289.0" y1="256.57" x2="518.6" y2="256.57" stroke="#e4e4e4" stroke-width="0.8"/>
<text x="286.20" y="259.27" text-anchor="end" class="tk" style="font-size:6.8px">80</text>
<line x1="287.8" y1="256.57" x2="289.0" y2="256.57" stroke="#a8a8a8" stroke-width="0.8"/>
<line x1="289.0" y1="237.87" x2="518.6" y2="237.87" stroke="#e4e4e4" stroke-width="0.8"/>
<text x="286.20" y="240.56" text-anchor="end" class="tk" style="font-size:6.8px">100</text>
<line x1="287.8" y1="237.87" x2="289.0" y2="237.87" stroke="#a8a8a8" stroke-width="0.8"/>
<line x1="289.0" y1="219.16" x2="518.6" y2="219.16" stroke="#e4e4e4" stroke-width="0.8"/>
<text x="286.20" y="221.86" text-anchor="end" class="tk" style="font-size:6.8px">120</text>
<line x1="287.8" y1="219.16" x2="289.0" y2="219.16" stroke="#a8a8a8" stroke-width="0.8"/>
<line x1="289.0" y1="200.45" x2="518.6" y2="200.45" stroke="#e4e4e4" stroke-width="0.8"/>
<text x="286.20" y="203.15" text-anchor="end" class="tk" style="font-size:6.8px">140</text>
<line x1="287.8" y1="200.45" x2="289.0" y2="200.45" stroke="#a8a8a8" stroke-width="0.8"/>
<line x1="298.57" y1="319.43" x2="298.57" y2="301.19" stroke="#595959" stroke-width="0.9"/>
<line x1="298.57" y1="331.40" x2="298.57" y2="331.40" stroke="#595959" stroke-width="0.9"/>
<line x1="294.74" y1="301.19" x2="302.39" y2="301.19" stroke="#595959" stroke-width="0.9"/>
<line x1="294.74" y1="331.40" x2="302.39" y2="331.40" stroke="#595959" stroke-width="0.9"/>
<rect x="290.91" y="319.43" width="15.31" height="11.97" fill="#72b6a1" stroke="#595959" stroke-width="0.9"/>
<line x1="290.91" y1="328.59" x2="306.22" y2="328.59" stroke="#595959" stroke-width="0.9"/>
<text x="298.57" y="327.89" text-anchor="middle" class="bl">3.00</text>
<text x="298.57" y="338.20" text-anchor="middle" class="xt">N-W&amp;S</text>
<line x1="298.57" y1="331.4" x2="298.57" y2="332.70" stroke="#a8a8a8" stroke-width="0.8"/>
<line x1="317.70" y1="319.05" x2="317.70" y2="301.19" stroke="#595959" stroke-width="0.9"/>
<line x1="317.70" y1="331.40" x2="317.70" y2="331.40" stroke="#595959" stroke-width="0.9"/>
<line x1="313.87" y1="301.19" x2="321.53" y2="301.19" stroke="#595959" stroke-width="0.9"/>
<line x1="313.87" y1="331.40" x2="321.53" y2="331.40" stroke="#595959" stroke-width="0.9"/>
<rect x="310.05" y="319.05" width="15.31" height="12.35" fill="#e99675" stroke="#595959" stroke-width="0.9"/>
<line x1="310.05" y1="327.66" x2="325.35" y2="327.66" stroke="#595959" stroke-width="0.9"/>
<text x="317.70" y="326.96" text-anchor="middle" class="bl">4.00</text>
<text x="317.70" y="338.20" text-anchor="middle" class="xt">N-S</text>
<line x1="317.70" y1="331.4" x2="317.70" y2="332.70" stroke="#a8a8a8" stroke-width="0.8"/>
<line x1="336.83" y1="322.70" x2="336.83" y2="310.45" stroke="#595959" stroke-width="0.9"/>
<line x1="336.83" y1="331.40" x2="336.83" y2="331.40" stroke="#595959" stroke-width="0.9"/>
<line x1="333.01" y1="310.45" x2="340.66" y2="310.45" stroke="#595959" stroke-width="0.9"/>
<line x1="333.01" y1="331.40" x2="340.66" y2="331.40" stroke="#595959" stroke-width="0.9"/>
<rect x="329.18" y="322.70" width="15.31" height="8.70" fill="#95a3c3" stroke="#595959" stroke-width="0.9"/>
<line x1="329.18" y1="330.46" x2="344.49" y2="330.46" stroke="#595959" stroke-width="0.9"/>
<text x="336.83" y="329.76" text-anchor="middle" class="bl">1.00</text>
<text x="336.83" y="338.20" text-anchor="middle" class="xt">N-E</text>
<line x1="336.83" y1="331.4" x2="336.83" y2="332.70" stroke="#a8a8a8" stroke-width="0.8"/>
<line x1="355.97" y1="302.40" x2="355.97" y2="268.55" stroke="#595959" stroke-width="0.9"/>
<line x1="355.97" y1="324.29" x2="355.97" y2="331.40" stroke="#595959" stroke-width="0.9"/>
<line x1="352.14" y1="268.55" x2="359.79" y2="268.55" stroke="#595959" stroke-width="0.9"/>
<line x1="352.14" y1="331.40" x2="359.79" y2="331.40" stroke="#595959" stroke-width="0.9"/>
<rect x="348.31" y="302.40" width="15.31" height="21.89" fill="#db96c0" stroke="#595959" stroke-width="0.9"/>
<line x1="348.31" y1="314.75" x2="363.62" y2="314.75" stroke="#595959" stroke-width="0.9"/>
<text x="355.97" y="314.80" text-anchor="middle" class="bl">17.00</text>
<text x="355.97" y="338.20" text-anchor="middle" class="xt">W-S&amp;E</text>
<line x1="355.97" y1="331.4" x2="355.97" y2="332.70" stroke="#a8a8a8" stroke-width="0.8"/>
<line x1="375.10" y1="294.17" x2="375.10" y2="251.62" stroke="#595959" stroke-width="0.9"/>
<line x1="375.10" y1="321.86" x2="375.10" y2="331.40" stroke="#595959" stroke-width="0.9"/>
<line x1="371.27" y1="251.62" x2="378.93" y2="251.62" stroke="#595959" stroke-width="0.9"/>
<line x1="371.27" y1="331.40" x2="378.93" y2="331.40" stroke="#595959" stroke-width="0.9"/>
<rect x="367.45" y="294.17" width="15.31" height="27.69" fill="#a2c865" stroke="#595959" stroke-width="0.9"/>
<line x1="367.45" y1="311.66" x2="382.75" y2="311.66" stroke="#595959" stroke-width="0.9"/>
<text x="375.10" y="311.06" text-anchor="middle" class="bl">21.00</text>
<text x="375.10" y="338.20" text-anchor="middle" class="xt">W-E</text>
<line x1="375.10" y1="331.4" x2="375.10" y2="332.70" stroke="#a8a8a8" stroke-width="0.8"/>
<line x1="394.23" y1="298.01" x2="394.23" y2="258.91" stroke="#595959" stroke-width="0.9"/>
<line x1="394.23" y1="324.20" x2="394.23" y2="331.40" stroke="#595959" stroke-width="0.9"/>
<line x1="390.41" y1="258.91" x2="398.06" y2="258.91" stroke="#595959" stroke-width="0.9"/>
<line x1="390.41" y1="331.40" x2="398.06" y2="331.40" stroke="#595959" stroke-width="0.9"/>
<rect x="386.58" y="298.01" width="15.31" height="26.19" fill="#e5c849" stroke="#595959" stroke-width="0.9"/>
<line x1="386.58" y1="314.56" x2="401.89" y2="314.56" stroke="#595959" stroke-width="0.9"/>
<text x="394.23" y="313.86" text-anchor="middle" class="bl">18.00</text>
<text x="394.23" y="338.20" text-anchor="middle" class="xt">W-N</text>
<line x1="394.23" y1="331.4" x2="394.23" y2="332.70" stroke="#a8a8a8" stroke-width="0.8"/>
<line x1="413.37" y1="318.96" x2="413.37" y2="301.47" stroke="#595959" stroke-width="0.9"/>
<line x1="413.37" y1="331.40" x2="413.37" y2="331.40" stroke="#595959" stroke-width="0.9"/>
<line x1="409.54" y1="301.47" x2="417.19" y2="301.47" stroke="#595959" stroke-width="0.9"/>
<line x1="409.54" y1="331.40" x2="417.19" y2="331.40" stroke="#595959" stroke-width="0.9"/>
<rect x="405.71" y="318.96" width="15.31" height="12.44" fill="#dbc29e" stroke="#595959" stroke-width="0.9"/>
<line x1="405.71" y1="328.59" x2="421.02" y2="328.59" stroke="#595959" stroke-width="0.9"/>
<text x="413.37" y="327.89" text-anchor="middle" class="bl">3.00</text>
<text x="413.37" y="338.20" text-anchor="middle" class="xt">S-E&amp;N</text>
<line x1="413.37" y1="331.4" x2="413.37" y2="332.70" stroke="#a8a8a8" stroke-width="0.8"/>
<line x1="432.50" y1="318.96" x2="432.50" y2="301.47" stroke="#595959" stroke-width="0.9"/>
<line x1="432.50" y1="331.40" x2="432.50" y2="331.40" stroke="#595959" stroke-width="0.9"/>
<line x1="428.67" y1="301.47" x2="436.33" y2="301.47" stroke="#595959" stroke-width="0.9"/>
<line x1="428.67" y1="331.40" x2="436.33" y2="331.40" stroke="#595959" stroke-width="0.9"/>
<rect x="424.85" y="318.96" width="15.31" height="12.44" fill="#b3b3b3" stroke="#595959" stroke-width="0.9"/>
<line x1="424.85" y1="327.66" x2="440.15" y2="327.66" stroke="#595959" stroke-width="0.9"/>
<text x="432.50" y="326.96" text-anchor="middle" class="bl">4.00</text>
<text x="432.50" y="338.20" text-anchor="middle" class="xt">S-N</text>
<line x1="432.50" y1="331.4" x2="432.50" y2="332.70" stroke="#a8a8a8" stroke-width="0.8"/>
<line x1="451.63" y1="322.61" x2="451.63" y2="310.45" stroke="#595959" stroke-width="0.9"/>
<line x1="451.63" y1="331.40" x2="451.63" y2="331.40" stroke="#595959" stroke-width="0.9"/>
<line x1="447.81" y1="310.45" x2="455.46" y2="310.45" stroke="#595959" stroke-width="0.9"/>
<line x1="447.81" y1="331.40" x2="455.46" y2="331.40" stroke="#595959" stroke-width="0.9"/>
<rect x="443.98" y="322.61" width="15.31" height="8.79" fill="#72b6a1" stroke="#595959" stroke-width="0.9"/>
<line x1="443.98" y1="330.46" x2="459.29" y2="330.46" stroke="#595959" stroke-width="0.9"/>
<text x="451.63" y="329.76" text-anchor="middle" class="bl">1.00</text>
<text x="451.63" y="338.20" text-anchor="middle" class="xt">S-W</text>
<line x1="451.63" y1="331.4" x2="451.63" y2="332.70" stroke="#a8a8a8" stroke-width="0.8"/>
<line x1="470.77" y1="302.03" x2="470.77" y2="268.26" stroke="#595959" stroke-width="0.9"/>
<line x1="470.77" y1="324.20" x2="470.77" y2="331.40" stroke="#595959" stroke-width="0.9"/>
<line x1="466.94" y1="268.26" x2="474.59" y2="268.26" stroke="#595959" stroke-width="0.9"/>
<line x1="466.94" y1="331.40" x2="474.59" y2="331.40" stroke="#595959" stroke-width="0.9"/>
<rect x="463.11" y="302.03" width="15.31" height="22.17" fill="#e99675" stroke="#595959" stroke-width="0.9"/>
<line x1="463.11" y1="314.38" x2="478.42" y2="314.38" stroke="#595959" stroke-width="0.9"/>
<text x="470.77" y="313.86" text-anchor="middle" class="bl">18.00</text>
<text x="470.77" y="338.20" text-anchor="middle" class="xt">E-N&amp;W</text>
<line x1="470.77" y1="331.4" x2="470.77" y2="332.70" stroke="#a8a8a8" stroke-width="0.8"/>
<line x1="489.90" y1="294.17" x2="489.90" y2="251.62" stroke="#595959" stroke-width="0.9"/>
<line x1="489.90" y1="322.05" x2="489.90" y2="331.40" stroke="#595959" stroke-width="0.9"/>
<line x1="486.07" y1="251.62" x2="493.73" y2="251.62" stroke="#595959" stroke-width="0.9"/>
<line x1="486.07" y1="331.40" x2="493.73" y2="331.40" stroke="#595959" stroke-width="0.9"/>
<rect x="482.25" y="294.17" width="15.31" height="27.87" fill="#95a3c3" stroke="#595959" stroke-width="0.9"/>
<line x1="482.25" y1="310.35" x2="497.55" y2="310.35" stroke="#595959" stroke-width="0.9"/>
<text x="489.90" y="310.12" text-anchor="middle" class="bl">22.00</text>
<text x="489.90" y="338.20" text-anchor="middle" class="xt">E-W</text>
<line x1="489.90" y1="331.4" x2="489.90" y2="332.70" stroke="#a8a8a8" stroke-width="0.8"/>
<line x1="509.03" y1="297.45" x2="509.03" y2="258.44" stroke="#595959" stroke-width="0.9"/>
<line x1="509.03" y1="323.64" x2="509.03" y2="331.40" stroke="#595959" stroke-width="0.9"/>
<line x1="505.21" y1="258.44" x2="512.86" y2="258.44" stroke="#595959" stroke-width="0.9"/>
<line x1="505.21" y1="331.40" x2="512.86" y2="331.40" stroke="#595959" stroke-width="0.9"/>
<rect x="501.38" y="297.45" width="15.31" height="26.19" fill="#db96c0" stroke="#595959" stroke-width="0.9"/>
<line x1="501.38" y1="313.44" x2="516.69" y2="313.44" stroke="#595959" stroke-width="0.9"/>
<text x="509.03" y="312.93" text-anchor="middle" class="bl">19.00</text>
<text x="509.03" y="338.20" text-anchor="middle" class="xt">E-S</text>
<line x1="509.03" y1="331.4" x2="509.03" y2="332.70" stroke="#a8a8a8" stroke-width="0.8"/>
<rect x="289.0" y="191.1" width="229.60" height="140.30" fill="none" stroke="#a8a8a8" stroke-width="0.9"/>
<text transform="translate(270.8,261.00) rotate(-90)" text-anchor="middle" class="yl" style="font-size:6.7px" textLength="91.2" lengthAdjust="spacingAndGlyphs">Average queue time [s/lane]</text>
<text x="329.6" y="361.5" class="cap" textLength="122" lengthAdjust="spacingAndGlyphs">(<tspan font-weight="bold">d</tspan>) Average queue time</text>
<line x1="36.4" y1="511.50" x2="260.7" y2="511.50" stroke="#e4e4e4" stroke-width="0.8"/>
<text x="33.60" y="514.49" text-anchor="end" class="tk" style="font-size:7.6px">0.0</text>
<line x1="35.199999999999996" y1="511.50" x2="36.4" y2="511.50" stroke="#a8a8a8" stroke-width="0.8"/>
<line x1="36.4" y1="494.77" x2="260.7" y2="494.77" stroke="#e4e4e4" stroke-width="0.8"/>
<text x="33.60" y="497.76" text-anchor="end" class="tk" style="font-size:7.6px">2.5</text>
<line x1="35.199999999999996" y1="494.77" x2="36.4" y2="494.77" stroke="#a8a8a8" stroke-width="0.8"/>
<line x1="36.4" y1="478.05" x2="260.7" y2="478.05" stroke="#e4e4e4" stroke-width="0.8"/>
<text x="33.60" y="481.04" text-anchor="end" class="tk" style="font-size:7.6px">5.0</text>
<line x1="35.199999999999996" y1="478.05" x2="36.4" y2="478.05" stroke="#a8a8a8" stroke-width="0.8"/>
<line x1="36.4" y1="461.32" x2="260.7" y2="461.32" stroke="#e4e4e4" stroke-width="0.8"/>
<text x="33.60" y="464.31" text-anchor="end" class="tk" style="font-size:7.6px">7.5</text>
<line x1="35.199999999999996" y1="461.32" x2="36.4" y2="461.32" stroke="#a8a8a8" stroke-width="0.8"/>
<line x1="36.4" y1="444.60" x2="260.7" y2="444.60" stroke="#e4e4e4" stroke-width="0.8"/>
<text x="33.60" y="447.59" text-anchor="end" class="tk" style="font-size:7.6px">10.0</text>
<line x1="35.199999999999996" y1="444.60" x2="36.4" y2="444.60" stroke="#a8a8a8" stroke-width="0.8"/>
<line x1="36.4" y1="427.88" x2="260.7" y2="427.88" stroke="#e4e4e4" stroke-width="0.8"/>
<text x="33.60" y="430.86" text-anchor="end" class="tk" style="font-size:7.6px">12.5</text>
<line x1="35.199999999999996" y1="427.88" x2="36.4" y2="427.88" stroke="#a8a8a8" stroke-width="0.8"/>
<line x1="36.4" y1="411.15" x2="260.7" y2="411.15" stroke="#e4e4e4" stroke-width="0.8"/>
<text x="33.60" y="414.14" text-anchor="end" class="tk" style="font-size:7.6px">15.0</text>
<line x1="35.199999999999996" y1="411.15" x2="36.4" y2="411.15" stroke="#a8a8a8" stroke-width="0.8"/>
<line x1="36.4" y1="394.42" x2="260.7" y2="394.42" stroke="#e4e4e4" stroke-width="0.8"/>
<text x="33.60" y="397.41" text-anchor="end" class="tk" style="font-size:7.6px">17.5</text>
<line x1="35.199999999999996" y1="394.42" x2="36.4" y2="394.42" stroke="#a8a8a8" stroke-width="0.8"/>
<line x1="36.4" y1="377.70" x2="260.7" y2="377.70" stroke="#e4e4e4" stroke-width="0.8"/>
<text x="33.60" y="380.69" text-anchor="end" class="tk" style="font-size:7.6px">20.0</text>
<line x1="35.199999999999996" y1="377.70" x2="36.4" y2="377.70" stroke="#a8a8a8" stroke-width="0.8"/>
<line x1="45.75" y1="464.67" x2="45.75" y2="424.53" stroke="#595959" stroke-width="0.9"/>
<line x1="45.75" y1="491.43" x2="45.75" y2="511.50" stroke="#595959" stroke-width="0.9"/>
<line x1="42.01" y1="424.53" x2="49.48" y2="424.53" stroke="#595959" stroke-width="0.9"/>
<line x1="42.01" y1="511.50" x2="49.48" y2="511.50" stroke="#595959" stroke-width="0.9"/>
<rect x="38.27" y="464.67" width="14.95" height="26.76" fill="#72b6a1" stroke="#595959" stroke-width="0.9"/>
<line x1="38.27" y1="478.05" x2="53.22" y2="478.05" stroke="#595959" stroke-width="0.9"/>
<text x="45.75" y="477.55" text-anchor="middle" class="bl">5.00</text>
<text x="45.75" y="518.50" text-anchor="middle" class="xt">N-W&amp;S</text>
<line x1="45.75" y1="511.5" x2="45.75" y2="512.80" stroke="#a8a8a8" stroke-width="0.8"/>
<line x1="64.44" y1="457.98" x2="64.44" y2="411.15" stroke="#595959" stroke-width="0.9"/>
<line x1="64.44" y1="491.43" x2="64.44" y2="511.50" stroke="#595959" stroke-width="0.9"/>
<line x1="60.70" y1="411.15" x2="68.18" y2="411.15" stroke="#595959" stroke-width="0.9"/>
<line x1="60.70" y1="511.50" x2="68.18" y2="511.50" stroke="#595959" stroke-width="0.9"/>
<rect x="56.96" y="457.98" width="14.95" height="33.45" fill="#e99675" stroke="#595959" stroke-width="0.9"/>
<line x1="56.96" y1="478.05" x2="71.91" y2="478.05" stroke="#595959" stroke-width="0.9"/>
<text x="64.44" y="477.55" text-anchor="middle" class="bl">5.00</text>
<text x="64.44" y="518.50" text-anchor="middle" class="xt">N-S</text>
<line x1="64.44" y1="511.5" x2="64.44" y2="512.80" stroke="#a8a8a8" stroke-width="0.8"/>
<line x1="83.13" y1="471.36" x2="83.13" y2="431.22" stroke="#595959" stroke-width="0.9"/>
<line x1="83.13" y1="498.12" x2="83.13" y2="511.50" stroke="#595959" stroke-width="0.9"/>
<line x1="79.39" y1="431.22" x2="86.87" y2="431.22" stroke="#595959" stroke-width="0.9"/>
<line x1="79.39" y1="511.50" x2="86.87" y2="511.50" stroke="#595959" stroke-width="0.9"/>
<rect x="75.65" y="471.36" width="14.95" height="26.76" fill="#95a3c3" stroke="#595959" stroke-width="0.9"/>
<line x1="75.65" y1="484.74" x2="90.61" y2="484.74" stroke="#595959" stroke-width="0.9"/>
<text x="83.13" y="484.24" text-anchor="middle" class="bl">4.00</text>
<text x="83.13" y="518.50" text-anchor="middle" class="xt">N-E</text>
<line x1="83.13" y1="511.5" x2="83.13" y2="512.80" stroke="#a8a8a8" stroke-width="0.8"/>
<line x1="101.82" y1="424.53" x2="101.82" y2="411.15" stroke="#595959" stroke-width="0.9"/>
<line x1="101.82" y1="451.29" x2="101.82" y2="491.43" stroke="#595959" stroke-width="0.9"/>
<line x1="98.08" y1="411.15" x2="105.56" y2="411.15" stroke="#595959" stroke-width="0.9"/>
<line x1="98.08" y1="491.43" x2="105.56" y2="491.43" stroke="#595959" stroke-width="0.9"/>
<rect x="94.34" y="424.53" width="14.95" height="26.76" fill="#db96c0" stroke="#595959" stroke-width="0.9"/>
<line x1="94.34" y1="437.91" x2="109.30" y2="437.91" stroke="#595959" stroke-width="0.9"/>
<text x="101.82" y="437.41" text-anchor="middle" class="bl">11.00</text>
<text x="101.82" y="518.50" text-anchor="middle" class="xt">W-S&amp;E</text>
<line x1="101.82" y1="511.5" x2="101.82" y2="512.80" stroke="#a8a8a8" stroke-width="0.8"/>
<line x1="120.51" y1="424.53" x2="120.51" y2="404.46" stroke="#595959" stroke-width="0.9"/>
<line x1="120.51" y1="451.29" x2="120.51" y2="491.43" stroke="#595959" stroke-width="0.9"/>
<line x1="116.77" y1="404.46" x2="124.25" y2="404.46" stroke="#595959" stroke-width="0.9"/>
<line x1="116.77" y1="491.43" x2="124.25" y2="491.43" stroke="#595959" stroke-width="0.9"/>
<rect x="113.04" y="424.53" width="14.95" height="26.76" fill="#a2c865" stroke="#595959" stroke-width="0.9"/>
<line x1="113.04" y1="431.22" x2="127.99" y2="431.22" stroke="#595959" stroke-width="0.9"/>
<text x="120.51" y="430.72" text-anchor="middle" class="bl">12.00</text>
<text x="120.51" y="518.50" text-anchor="middle" class="xt">W-E</text>
<line x1="120.51" y1="511.5" x2="120.51" y2="512.80" stroke="#a8a8a8" stroke-width="0.8"/>
<line x1="139.20" y1="457.98" x2="139.20" y2="417.84" stroke="#595959" stroke-width="0.9"/>
<line x1="139.20" y1="484.74" x2="139.20" y2="511.50" stroke="#595959" stroke-width="0.9"/>
<line x1="135.47" y1="417.84" x2="142.94" y2="417.84" stroke="#595959" stroke-width="0.9"/>
<line x1="135.47" y1="511.50" x2="142.94" y2="511.50" stroke="#595959" stroke-width="0.9"/>
<rect x="131.73" y="457.98" width="14.95" height="26.76" fill="#e5c849" stroke="#595959" stroke-width="0.9"/>
<line x1="131.73" y1="478.05" x2="146.68" y2="478.05" stroke="#595959" stroke-width="0.9"/>
<text x="139.20" y="477.55" text-anchor="middle" class="bl">5.00</text>
<text x="139.20" y="518.50" text-anchor="middle" class="xt">W-N</text>
<line x1="139.20" y1="511.5" x2="139.20" y2="512.80" stroke="#a8a8a8" stroke-width="0.8"/>
<line x1="157.90" y1="464.67" x2="157.90" y2="424.53" stroke="#595959" stroke-width="0.9"/>
<line x1="157.90" y1="491.43" x2="157.90" y2="511.50" stroke="#595959" stroke-width="0.9"/>
<line x1="154.16" y1="424.53" x2="161.63" y2="424.53" stroke="#595959" stroke-width="0.9"/>
<line x1="154.16" y1="511.50" x2="161.63" y2="511.50" stroke="#595959" stroke-width="0.9"/>
<rect x="150.42" y="464.67" width="14.95" height="26.76" fill="#dbc29e" stroke="#595959" stroke-width="0.9"/>
<line x1="150.42" y1="478.05" x2="165.37" y2="478.05" stroke="#595959" stroke-width="0.9"/>
<text x="157.90" y="477.55" text-anchor="middle" class="bl">5.00</text>
<text x="157.90" y="518.50" text-anchor="middle" class="xt">S-E&amp;N</text>
<line x1="157.90" y1="511.5" x2="157.90" y2="512.80" stroke="#a8a8a8" stroke-width="0.8"/>
<line x1="176.59" y1="457.98" x2="176.59" y2="411.15" stroke="#595959" stroke-width="0.9"/>
<line x1="176.59" y1="491.43" x2="176.59" y2="511.50" stroke="#595959" stroke-width="0.9"/>
<line x1="172.85" y1="411.15" x2="180.33" y2="411.15" stroke="#595959" stroke-width="0.9"/>
<line x1="172.85" y1="511.50" x2="180.33" y2="511.50" stroke="#595959" stroke-width="0.9"/>
<rect x="169.11" y="457.98" width="14.95" height="33.45" fill="#b3b3b3" stroke="#595959" stroke-width="0.9"/>
<line x1="169.11" y1="478.05" x2="184.06" y2="478.05" stroke="#595959" stroke-width="0.9"/>
<text x="176.59" y="477.55" text-anchor="middle" class="bl">5.00</text>
<text x="176.59" y="518.50" text-anchor="middle" class="xt">S-N</text>
<line x1="176.59" y1="511.5" x2="176.59" y2="512.80" stroke="#a8a8a8" stroke-width="0.8"/>
<line x1="195.28" y1="464.67" x2="195.28" y2="424.53" stroke="#595959" stroke-width="0.9"/>
<line x1="195.28" y1="498.12" x2="195.28" y2="511.50" stroke="#595959" stroke-width="0.9"/>
<line x1="191.54" y1="424.53" x2="199.02" y2="424.53" stroke="#595959" stroke-width="0.9"/>
<line x1="191.54" y1="511.50" x2="199.02" y2="511.50" stroke="#595959" stroke-width="0.9"/>
<rect x="187.80" y="464.67" width="14.95" height="33.45" fill="#72b6a1" stroke="#595959" stroke-width="0.9"/>
<line x1="187.80" y1="484.74" x2="202.76" y2="484.74" stroke="#595959" stroke-width="0.9"/>
<text x="195.28" y="484.24" text-anchor="middle" class="bl">4.00</text>
<text x="195.28" y="518.50" text-anchor="middle" class="xt">S-W</text>
<line x1="195.28" y1="511.5" x2="195.28" y2="512.80" stroke="#a8a8a8" stroke-width="0.8"/>
<line x1="213.97" y1="424.53" x2="213.97" y2="411.15" stroke="#595959" stroke-width="0.9"/>
<line x1="213.97" y1="451.29" x2="213.97" y2="491.43" stroke="#595959" stroke-width="0.9"/>
<line x1="210.23" y1="411.15" x2="217.71" y2="411.15" stroke="#595959" stroke-width="0.9"/>
<line x1="210.23" y1="491.43" x2="217.71" y2="491.43" stroke="#595959" stroke-width="0.9"/>
<rect x="206.49" y="424.53" width="14.95" height="26.76" fill="#e99675" stroke="#595959" stroke-width="0.9"/>
<line x1="206.49" y1="431.22" x2="221.45" y2="431.22" stroke="#595959" stroke-width="0.9"/>
<text x="213.97" y="430.72" text-anchor="middle" class="bl">12.00</text>
<text x="213.97" y="518.50" text-anchor="middle" class="xt">E-N&amp;W</text>
<line x1="213.97" y1="511.5" x2="213.97" y2="512.80" stroke="#a8a8a8" stroke-width="0.8"/>
<line x1="232.66" y1="424.53" x2="232.66" y2="404.46" stroke="#595959" stroke-width="0.9"/>
<line x1="232.66" y1="451.29" x2="232.66" y2="491.43" stroke="#595959" stroke-width="0.9"/>
<line x1="228.92" y1="404.46" x2="236.40" y2="404.46" stroke="#595959" stroke-width="0.9"/>
<line x1="228.92" y1="491.43" x2="236.40" y2="491.43" stroke="#595959" stroke-width="0.9"/>
<rect x="225.19" y="424.53" width="14.95" height="26.76" fill="#95a3c3" stroke="#595959" stroke-width="0.9"/>
<line x1="225.19" y1="431.22" x2="240.14" y2="431.22" stroke="#595959" stroke-width="0.9"/>
<text x="232.66" y="430.72" text-anchor="middle" class="bl">12.00</text>
<text x="232.66" y="518.50" text-anchor="middle" class="xt">E-W</text>
<line x1="232.66" y1="511.5" x2="232.66" y2="512.80" stroke="#a8a8a8" stroke-width="0.8"/>
<line x1="251.35" y1="451.29" x2="251.35" y2="411.15" stroke="#595959" stroke-width="0.9"/>
<line x1="251.35" y1="484.74" x2="251.35" y2="511.50" stroke="#595959" stroke-width="0.9"/>
<line x1="247.62" y1="411.15" x2="255.09" y2="411.15" stroke="#595959" stroke-width="0.9"/>
<line x1="247.62" y1="511.50" x2="255.09" y2="511.50" stroke="#595959" stroke-width="0.9"/>
<rect x="243.88" y="451.29" width="14.95" height="33.45" fill="#db96c0" stroke="#595959" stroke-width="0.9"/>
<line x1="243.88" y1="464.67" x2="258.83" y2="464.67" stroke="#595959" stroke-width="0.9"/>
<text x="251.35" y="464.17" text-anchor="middle" class="bl">7.00</text>
<text x="251.35" y="518.50" text-anchor="middle" class="xt">E-S</text>
<line x1="251.35" y1="511.5" x2="251.35" y2="512.80" stroke="#a8a8a8" stroke-width="0.8"/>
<rect x="36.4" y="377.7" width="224.30" height="133.80" fill="none" stroke="#a8a8a8" stroke-width="0.9"/>
<text transform="translate(14.3,444.95) rotate(-90)" text-anchor="middle" class="yl" style="font-size:7.7px" textLength="126.3" lengthAdjust="spacingAndGlyphs">Average vehicle density [veh/lane]</text>
<text x="63.5" y="541.5" class="cap" textLength="139.7" lengthAdjust="spacingAndGlyphs">(<tspan font-weight="bold">e</tspan>) Average vehicle density</text>
</svg></body></html>
